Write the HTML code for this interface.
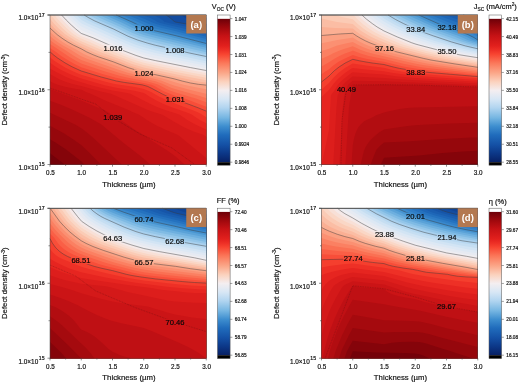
<!DOCTYPE html>
<html><head><meta charset="utf-8"><title>Contour plots</title>
<style>
html,body{margin:0;padding:0;background:#fff;}
svg{display:block;font-family:"Liberation Sans",sans-serif;}
text{stroke:#111;stroke-width:0.18px;}
text.w{stroke:none;}
</style></head><body>
<svg width="520" height="383" viewBox="0 0 520 383">
<rect width="520" height="383" fill="#fff"/>
<g><rect x="50" y="15" width="156.2" height="149.5" fill="#0d3b8c"/><path d="M50,15 198.4,15 202.3,16.5 206.2,17.5 206.2,164.5 50,164.5Z" fill="#104496"/><path d="M50,15 181.2,15 186.9,19 190.6,21 193.3,22 206.2,23.8 206.2,164.5 50,164.5Z" fill="#134ca0"/><path d="M50,15 165.9,15 169.1,17 175,22 186.7,24 196.2,26 202.3,27.9 206.2,30 206.2,164.5 50,164.5Z" fill="#1655a9"/><path d="M50,15 152.4,15 155.5,16.1 159.4,18 162.4,20 164.7,22 171.1,23.5 187.9,27 191.7,28 197.5,30 206.2,32.2 206.2,164.5 50,164.5Z" fill="#1a5eb0"/><path d="M50,15 142,15 150.3,18 154.4,20 157.5,22 160.5,23 167.2,24.8 182.8,28.3 206.2,34.5 206.2,164.5 50,164.5Z" fill="#1e67b8"/><path d="M50,15 134.2,15 144.7,19 153.4,23 159.4,25 178.9,29.7 206.2,36.8 206.2,164.5 50,164.5Z" fill="#2572bf"/><path d="M50,15 127.7,15 149,24 155.5,26.3 161.7,28 171.1,30.1 182.8,33 206.2,39 206.2,164.5 50,164.5Z" fill="#2f7dc6"/><path d="M50,15 121.8,15 138,22 144.4,25 151.6,27.7 178.9,34.2 206.2,41.2 206.2,164.5 50,164.5Z" fill="#3988cc"/><path d="M50,15 116,15 132,22 139.8,25.9 144.6,28 155.3,30.9 175,35.5 206.2,43.5 206.2,164.5 50,164.5Z" fill="#4795d2"/><path d="M50,15 110.2,15 126.2,22 138,28 143.8,30.1 151.6,32.3 171.1,36.9 206.2,45.7 206.2,164.5 50,164.5Z" fill="#5aa2d8"/><path d="M50,15 104.6,15 122.7,23 132.5,28 135.9,29.5 143.8,32.5 151.6,34.7 206.2,47.8 206.2,164.5 50,164.5Z" fill="#6dafdf"/><path d="M50,15 99.2,15 104.7,17.6 120.3,24.4 133.5,30.9 139.8,33.5 143.8,34.9 155.5,38 206.2,50 206.2,164.5 50,164.5Z" fill="#80bbe4"/><path d="M50,15 94,15 102.1,19 120.3,27 132,32.8 139.8,36 147.7,38.3 155.5,40.3 187.3,47.9 206.2,52.2 206.2,164.5 50,164.5Z" fill="#94c6e9"/><path d="M50,15 89,15 96.9,19.2 102.9,22 116.4,27.7 131,34.9 139.8,38.4 147.7,40.7 159.4,43.7 190.6,50.9 206.2,54.3 206.2,164.5 50,164.5Z" fill="#a8d0ee"/><path d="M50,15 84.1,15 89.1,18 94.8,21 113.4,29 128.1,36.3 137.2,39.9 147.7,43.2 155.5,45.3 188.8,52.9 206.2,56.5 206.2,164.5 50,164.5Z" fill="#b8d8f1"/><path d="M50,15 79.8,15 81.2,16.4 85.2,18.9 93,22.9 107.1,29 128,38.9 139.8,43.4 147.7,45.8 155.7,47.9 186.7,54.8 206.2,58.8 206.2,164.5 50,164.5Z" fill="#c5def2"/><path d="M50,15 76.2,15 81.2,19.8 87,23 91.2,25 100.6,29 124.1,39.9 136.4,44.9 143.8,47.3 155.5,50.4 206.2,61.2 206.2,164.5 50,164.5Z" fill="#d2e4f4"/><path d="M50,15 72.5,15 81,23 82.7,24 120.3,41.1 128.1,44.5 134.4,46.9 143.8,50 155.5,53 206.2,63.5 206.2,164.5 50,164.5Z" fill="#dde8f4"/><path d="M50,15 68.9,15 74.9,21 81.2,26.6 124.2,45.7 139.8,51.4 147.7,53.8 155.5,55.6 190.7,62.8 206.2,65.8 206.2,164.5 50,164.5Z" fill="#e6eaf2"/><path d="M50,15 65.2,15 73.1,23 81.2,30.1 87.8,32.9 100.1,37.9 120.3,46.9 139.8,54.1 147.7,56.4 153.8,57.9 190.6,65.2 206.2,68.2 206.2,164.5 50,164.5Z" fill="#efedf1"/><path d="M50,15 61.6,15 66.2,20 71.3,25 75.8,29 81.2,33.4 93.3,37.9 113.6,46.9 139.8,56.8 143.8,58 155.5,60.6 190.6,67.6 206.2,70.5 206.2,164.5 50,164.5Z" fill="#f5e9e8"/><path d="M50,15 57.9,15 64.3,22 70.5,28 76.3,32.9 81.2,36 91.3,39.9 107,46.9 135.5,57.9 143.8,60.4 151.6,62.2 186.7,69.3 206.2,72.9 206.2,164.5 50,164.5Z" fill="#f8e0d7"/><path d="M50,15 54.3,15 60.4,22 66.4,28 72.1,32.9 77.3,36.4 81.2,38.6 89.1,41.7 100.6,46.9 108.6,50 132,59 139.8,61.6 143.8,62.7 159.4,66.2 190.6,72.4 206.2,75.3 206.2,164.5 50,164.5Z" fill="#fad7c6"/><path d="M50,15 50.7,15 56.6,22 62.3,28 67.9,32.9 70.6,34.9 75.4,37.9 81.2,41.2 104.1,50.9 135.9,62.8 143.8,65.1 155.5,67.8 178.9,72.5 194.5,75.6 206.2,77.8 206.2,164.5 50,164.5Z" fill="#fbcbb5"/><path d="M50,19 50,18.8 53.9,23.4 58.2,28 64.9,33.9 69.5,37.1 75.9,40.9 81.2,43.7 102.5,52.9 120.3,59.3 132,63.9 137.9,65.8 143.8,67.5 155.5,70.1 182.8,75.8 206.2,80.2 206.2,163.5 206.2,164.5 50,164.5Z" fill="#fbbda4"/><path d="M50,24 50,23.4 54.1,28 60.7,33.9 64.7,36.9 69.5,40.1 74.5,42.9 80.5,45.9 87.2,48.9 93.3,51.9 100.7,54.9 117.8,60.8 130.4,65.8 139.8,68.8 151.6,71.6 185.6,78.8 194.5,80.8 199.8,81.8 206.2,82.6 206.2,163.5 206.2,164.5 50,164.5Z" fill="#fbaf93"/><path d="M50,29 50,28 57.6,34.9 61.7,38 66,40.9 73,44.9 81.4,48.9 86.7,51.9 91,53.9 95.9,55.9 113.3,61.8 128.1,67.6 135.9,70.1 142.2,71.8 174.1,78.8 186.7,82.2 194.7,83.8 206.2,85.1 206.2,163.5 206.2,164.5 50,164.5Z" fill="#fba082"/><path d="M50,32.9 50,32 53.9,35.5 58.3,38.9 62.6,41.9 67.6,44.9 75.4,48.9 81.2,52.5 83.9,53.9 88.3,55.9 93.5,57.9 105.2,61.8 123.9,68.8 133.1,71.8 139.8,73.5 164,78.8 175,82.3 182.8,84.4 194.5,87.1 206.2,89.3 206.2,163.5 206.2,164.5 50,164.5Z" fill="#fb9072"/><path d="M50,36.9 50,35.9 53.9,39.2 59.1,42.9 63.9,45.9 69.5,48.9 80.7,55.9 87.7,58.9 118.6,69.8 127.9,72.8 135.9,74.8 155.5,79 161.7,80.8 171.1,84.4 175,85.7 190.6,89.9 206.2,93.7 206.2,163.5 206.2,164.5 50,164.5Z" fill="#fb8062"/><path d="M50,39.9 53.9,42.9 57.8,45.6 63.5,48.9 74.2,55.9 81.2,59.9 103.7,67.8 118.9,72.8 130.1,75.8 147.7,79.4 155.5,81.3 162.4,83.8 171.1,87.7 175,89 198.9,95.7 206.2,98 206.2,163.5 206.2,164.5 50,164.5Z" fill="#fa7053"/><path d="M50,43.9 53.9,46.6 62.1,51.9 69.5,57.1 75.9,60.8 81.2,63.6 102.8,70.8 119.5,75.8 128.1,77.8 147.7,81.5 155.5,83.7 158.5,84.8 166,88.8 171.1,91 178.9,93.5 196.6,98.7 206.2,102.3 206.2,163.5 206.2,164.5 50,164.5Z" fill="#fa5f46"/><path d="M50,47.9 56.1,51.9 61.2,55.9 67.2,59.8 74.1,63.8 81.2,67.3 101.6,73.8 115.9,77.8 128.1,80.3 143.7,82.9 151.6,84.7 154,85.8 163.3,90.9 171.1,94.3 175,95.7 185.3,98.7 206.3,106.7 206.2,163.5 206.2,164.5 50,164.5Z" fill="#f84e39"/><path d="M50,51.9 57.4,57.9 64.9,62.8 72.1,66.8 81.3,71 100.8,76.9 116.4,81 124.2,82.4 142,84.8 145.8,85.8 147.7,86.4 151.6,88.3 163.3,94.5 167.2,96.3 174.1,98.7 198.4,107.9 206.2,111.1 206.2,163.5 206.2,164.5 50,164.5Z" fill="#f53f2e"/><path d="M50,57.9 50,57.3 53.9,60.4 57.4,62.8 65.6,67.7 73.4,71.5 81.2,74.7 104.7,81.5 112.5,83.5 116.4,84.2 133.7,86.8 139.8,88 143.8,89 147.7,90.5 151.6,92.3 159.4,96.7 171.1,102.1 196.7,111.7 200.7,113.7 206.2,117.2 206.2,163.5 206.2,164.5 50,164.5Z" fill="#ee3026"/><path d="M50,63.8 50,62.8 53.9,65.6 57.8,68 61.7,70.2 67,72.8 73.9,75.8 81.2,78.5 96.9,83.1 104.7,85.2 116.4,87.7 134.6,90.7 139.8,92 143.8,93.1 145.2,93.7 149.8,96.7 156.9,100.7 163,103.7 170.3,106.7 184.9,111.7 190.6,113.9 192.1,114.7 199.5,119.7 206.2,123.3 206.2,163.5 206.2,164.5 50,164.5Z" fill="#e62520"/><path d="M50,68.8 50,68.4 55.7,71.8 65.6,76.8 70.3,78.8 76.2,80.8 92.9,85.8 100.8,87.8 112.5,90.4 125.8,92.7 130.4,93.7 150,103.7 156.5,106.7 164.3,109.7 177.1,113.7 179.8,114.7 186.9,119.7 193.5,123.6 199.4,126.6 206.2,129.5 206.2,163.5 206.2,164.5 50,164.5Z" fill="#dd1e1c"/><path d="M50,74.8 50,73.9 58.3,78.8 62.7,80.8 68.4,82.8 73.4,84.2 81.2,85.9 100.8,91.4 111.1,93.7 147.3,109.7 152.8,111.7 162.5,114.7 173.7,121.6 184.5,127.6 193.5,131.6 202.5,134.6 204.6,135.6 206.2,137.1 206.2,163.5 206.2,164.5 50,164.5Z" fill="#d41919"/><path d="M50,81.8 50,81.2 53.9,83.2 57.8,84.7 65,86.8 73.4,88.5 81.7,89.8 85.3,91.7 90.7,93.7 105.7,100.7 127.8,109.7 134.2,112.7 139.2,114.7 147.7,120.5 155.5,125 164.9,129.6 176.9,134.6 178.7,135.6 206.2,157.9 206.2,163.5 206.2,164.5 50,164.5Z" fill="#cb1416"/><path d="M50,89.8 50,89.1 51.9,89.8 81.2,100.5 95.8,106.7 103.6,109.7 105.6,110.7 124.2,122.3 135.9,130.4 144.6,135.6 151.6,140.4 167.2,150.5 175,156 184.6,164.5 50,164.5Z" fill="#bf1014"/><path d="M50,100.7 60.9,104.7 72.6,109.7 89.1,117.6 101.4,124.6 124.2,143.5 141.2,156.5 150.2,164.5 50,164.5Z" fill="#b20d11"/><path d="M50,112.7 75,124.6 80.1,127.6 83.1,129.6 88.2,133.6 95.1,139.6 121.7,164.5 50,164.5Z" fill="#a50a0e"/><path d="M50,126.6 50,126 51.3,126.6 57.8,130 64.2,133.6 73.4,139.4 81.2,145 90.2,153.5 100.7,164.5 50,164.5Z" fill="#96070c"/><path d="M50,139.6 50,139.3 55.5,142.6 66.1,149.6 81.2,161.2 84.3,164.5 50,164.5Z" fill="#85040a"/><path d="M50,153.5 50,153.2 64.6,164.5 50,164.5Z" fill="#740109"/><mask id="ma" maskUnits="userSpaceOnUse" x="0" y="0" width="520" height="383"><rect width="520" height="383" fill="#fff"/><rect x="134" y="24.4" width="20" height="7" fill="#000"/><rect x="165.1" y="46.5" width="20" height="7" fill="#000"/><rect x="103" y="44.6" width="20" height="7" fill="#000"/><rect x="134" y="69.4" width="20" height="7" fill="#000"/><rect x="165.3" y="95.9" width="20" height="7" fill="#000"/><rect x="102.8" y="114.2" width="20" height="7" fill="#000"/></mask><g mask="url(#ma)"><path d="M50,88 81,99 95.6,104 112.8,117.7 140,134 172,148 194,164" fill="none" stroke="#4a1010" stroke-opacity="0.55" stroke-width="0.6" stroke-dasharray="0.8 0.9"/><path d="M165.9,15 169.1,17 175,22 186.7,24 196.2,26 202.3,27.9 206.2,30" fill="none" stroke="#3a3a3a" stroke-opacity="0.75" stroke-width="0.6"/><path d="M116,15 132,22 139.8,25.9 144.6,28 155.3,30.9 175,35.5 206.2,43.5" fill="none" stroke="#3a3a3a" stroke-opacity="0.75" stroke-width="0.6"/><path d="M84.1,15 89.1,18 94.8,21 113.4,29 128.1,36.3 137.2,39.9 147.7,43.2 155.5,45.3 188.8,52.9 206.2,56.5" fill="none" stroke="#3a3a3a" stroke-opacity="0.75" stroke-width="0.6"/><path d="M61.6,15 66.2,20 71.3,25 75.8,29 81.2,33.4 93.3,37.9 113.6,46.9 135.9,55.4 143.8,58 155.5,60.6 190.6,67.6 206.2,70.5" fill="none" stroke="#3a3a3a" stroke-opacity="0.75" stroke-width="0.6"/><path d="M50,28 55.3,32.9 57.8,35.1 63,38.9 67.7,41.9 73.4,45.1 81.4,48.9 86.7,51.9 93,54.7 98.6,56.9 113.3,61.8 128.7,67.8 139.8,71.2 174.1,78.8 182.8,81.2 190.6,83 198.4,84.3 206.2,85.1" fill="none" stroke="#3a3a3a" stroke-opacity="0.75" stroke-width="0.6"/><path d="M50,51.8 53.5,54.9 57.4,57.9 64.9,62.8 72.1,66.8 81.3,71 100.8,76.9 116.4,81 124.2,82.4 142,84.8 145.8,85.8 147.7,86.4 151.6,88.3 163.3,94.5 167.2,96.3 174.1,98.7 198.4,107.9 206.2,111.1" fill="none" stroke="#3a3a3a" stroke-opacity="0.75" stroke-width="0.6"/></g></g>
<g><rect x="321.5" y="15" width="156.2" height="149.5" fill="#104496"/><path d="M321.5,15 475,15 477.8,15.7 477.8,164.5 321.5,164.5Z" fill="#134ca0"/><path d="M321.5,15 463.2,15 477.8,19.2 477.8,164.5 321.5,164.5Z" fill="#1655a9"/><path d="M321.5,15 453.5,15 466,19.1 477.8,22.6 477.8,164.5 321.5,164.5Z" fill="#1a5eb0"/><path d="M321.5,15 444.9,15 466,22.3 477.8,26.1 477.8,164.5 321.5,164.5Z" fill="#1e67b8"/><path d="M321.5,15 437.4,15 458.2,22.8 477.8,29.6 477.8,164.5 321.5,164.5Z" fill="#2572bf"/><path d="M321.5,15 430.8,15 446.5,21.4 461.1,27 472.9,30.9 477.8,33.1 477.8,164.5 321.5,164.5Z" fill="#2f7dc6"/><path d="M321.5,15 424.6,15 442.6,22.8 453.1,27 462.4,30 469.9,32.7 473.8,34.4 477.8,36.5 477.8,164.5 321.5,164.5Z" fill="#3988cc"/><path d="M321.5,15 418.7,15 445.7,27 460.9,31.9 468.6,34.9 473.8,37.5 477.8,40 477.8,164.5 321.5,164.5Z" fill="#4795d2"/><path d="M321.5,15 413,15 439.1,27 459.7,33.9 467,36.9 472.7,39.9 477.8,41.5 477.8,164.5 321.5,164.5Z" fill="#5aa2d8"/><path d="M321.5,15 407.5,15 434.8,27.6 458.2,35.8 463.4,37.9 467.6,39.9 477.8,42.9 477.8,164.5 321.5,164.5Z" fill="#6dafdf"/><path d="M321.5,15 402.4,15 411.3,19.4 430.9,28.3 454.3,36.6 462.3,39.9 468.7,41.9 477.8,44.4 477.8,164.5 321.5,164.5Z" fill="#80bbe4"/><path d="M321.5,15 397.4,15 403.5,18.3 409.1,21 423.1,27.4 429.2,30 459.8,40.9 469.9,43.9 477.8,45.9 477.8,164.5 321.5,164.5Z" fill="#94c6e9"/><path d="M321.5,15 392.7,15 399.6,18.9 407.4,22.8 420.9,29 427,31.4 454.1,40.9 467.8,44.9 477.8,47.3 477.8,164.5 321.5,164.5Z" fill="#a8d0ee"/><path d="M321.5,15 388,15 395.7,19.6 403.5,23.6 415.1,29 425,32.9 433.3,35.9 451.3,41.9 465.3,45.9 477.8,48.8 477.8,164.5 321.5,164.5Z" fill="#b8d8f1"/><path d="M321.5,15 383.6,15 391.3,20 399.6,24.4 411.3,29.9 423.1,34.6 435.6,38.9 451.7,43.9 466,47.8 477.8,50.3 477.8,164.5 321.5,164.5Z" fill="#c5def2"/><path d="M321.5,15 379.2,15 386.4,20 395.7,25.2 407.4,30.8 420.2,35.9 434.9,40.9 452,45.9 466,49.4 477.8,51.8 477.8,164.5 321.5,164.5Z" fill="#d2e4f4"/><path d="M321.5,15 374.9,15 378.8,18 384,21.6 391.8,26 401.8,30.9 411.3,34.9 419,37.9 430.9,41.9 452.4,47.9 464.9,50.9 477.8,53.2 477.8,164.5 321.5,164.5Z" fill="#dde8f4"/><path d="M321.5,15 370.5,15 375.6,19 379.8,22 384,24.7 387.9,26.9 398.1,31.9 407.4,35.9 415.2,39 423.1,41.7 430.1,43.9 450.4,49.3 461.5,51.9 477.8,54.7 477.8,164.5 321.5,164.5Z" fill="#e6eaf2"/><path d="M321.5,15 366.2,15 371,19 376.2,22.9 380.9,26 386,29 389.9,30.9 398.8,34.9 415.2,41.5 422.4,43.9 450.4,51.2 462.1,53.6 477.8,56.2 477.8,164.5 321.5,164.5Z" fill="#efedf1"/><path d="M321.5,15 361.9,15 366.3,19 372.3,23.6 377.2,27 383.9,30.9 397.2,36.9 411.3,42.6 415,43.9 418.5,44.9 445.2,51.9 460.1,54.9 477.8,57.7 477.8,164.5 321.5,164.5Z" fill="#f5e9e8"/><path d="M321.5,15 357.5,15 362.9,20 367.8,24 372.3,27.2 378.2,30.9 384,33.8 391.8,37.3 407.9,43.9 419.2,47.1 442.6,53.1 458.2,56.2 477.8,59.3 477.8,164.5 321.5,164.5Z" fill="#f8e0d7"/><path d="M321.5,15 353.2,15 358.2,20 362.8,24 368.1,28 372.6,30.9 376.2,33 382.3,35.9 401,43.9 414.5,47.9 438.7,54 454.3,57.1 477.8,60.9 477.8,164.5 321.5,164.5Z" fill="#fad7c6"/><path d="M321.5,15 334.9,15 341.9,17 352.8,19.2 357.8,24 362.7,28 366.9,30.9 372,33.9 380.1,37.9 394.3,43.9 403.3,46.9 411.3,49.1 426,52.9 442.6,56.6 454.8,58.9 477.8,62.5 477.8,164.5 321.5,164.5Z" fill="#fbcbb5"/><path d="M321.5,19 321.5,18.4 332.5,21 337.1,21.9 344.5,23 352.8,23.9 356.7,27.4 361.2,30.9 364.5,33.1 369.5,35.9 376.2,39.2 387.9,44 392.9,45.9 399.6,48 418,52.9 438.7,57.7 450.7,59.9 477.8,64.1 477.8,163.5 477.8,164.5 321.5,164.5Z" fill="#fbbda4"/><path d="M321.5,27 335.2,28 352.8,28.6 356.7,31.8 359.8,33.9 364.5,36.7 368.7,38.9 377.8,42.9 388.5,46.9 394.6,48.9 409.5,52.9 434.8,58.8 446.5,60.9 477.8,65.7 477.8,163.5 477.8,164.5 321.5,164.5Z" fill="#fbaf93"/><path d="M340.7,33.9 352.8,33.3 356.7,35.9 361.8,38.9 367.8,41.9 372.4,43.9 380.1,46.7 389.8,49.9 404.6,53.9 425.6,58.9 434.8,60.7 458.2,64.5 477.8,67.3 477.8,164.5 458.2,164.5 321.5,164.5 321.5,35.5Z" fill="#fba082"/><path d="M350.3,37.9 352.8,37.6 358.3,40.9 364.4,43.9 369.1,45.9 376.2,48.5 391.8,53 415.7,58.9 427,61.3 438.7,63.3 458.2,66.2 477.8,68.8 477.8,164.5 446.5,164.5 321.5,164.5 321.5,43.3 329,41.8 337.3,39.9Z" fill="#fb9072"/><path d="M347.9,42.9 352.8,42 358.4,44.9 362.8,46.9 368,48.9 374.2,50.9 405.3,58.9 418.3,61.8 427,63.5 438.7,65.3 456.9,67.8 477.8,70.4 477.8,164.5 450.4,164.5 321.5,164.5 321.5,51 329,48.7 333.2,47 337.1,45.6 343.5,43.9Z" fill="#fb8062"/><path d="M350.4,46.9 352.8,46.3 361,49.9 366.8,51.9 372.3,53.5 406.9,61.8 416.2,63.8 423.1,65.1 435,66.8 458.8,69.8 477.8,72 477.8,164.5 446.5,164.5 321.5,164.5 321.5,58.7 329,55.5 333.2,53.2 338.3,50.9 343.7,48.9Z" fill="#fa7053"/><path d="M352,50.9 352.8,50.6 360.6,53.5 368.9,55.9 376.2,57.5 384,58.9 403.5,63.7 415.2,66.1 423.1,67.4 434.4,68.8 477.8,73.5 477.8,164.5 446.5,164.5 321.5,164.5 321.5,66.5 329,62.3 334,58.9 339.4,55.9 344.9,53.4Z" fill="#fa5f46"/><path d="M350.5,55.9 352.8,55 359,56.9 367.3,58.9 376.2,60.5 384,61.7 403.5,66.4 417,68.8 433.5,70.8 477.8,75 477.8,164.5 446.5,164.5 321.5,164.5 321.5,74.2 324.9,71.8 329,69.2 333.2,65.5 338.5,61.8 343.9,58.9Z" fill="#f84e39"/><path d="M351.5,59.9 352.8,59.3 359.5,60.8 364.9,61.8 372.3,63 384,64.5 391.8,66.6 399.6,68.4 407.4,69.8 415.2,71 430.9,72.6 477.8,76.6 477.8,164.5 446.5,164.5 321.5,164.5 321.5,82 329,76 333.2,71.7 337.9,67.8 343.9,63.8Z" fill="#f53f2e"/><path d="M352.3,63.8 352.8,63.6 367.6,65.8 384,67.8 391.8,69.7 397.5,70.8 407.4,72.4 415.2,73.3 431.4,74.8 477.8,78.3 477.8,164.5 446.5,164.5 321.5,164.5 321.5,89.5 329,83 333.4,77.8 338.6,72.8 344.9,68.1Z" fill="#ee3026"/><path d="M351.1,68.8 352.8,67.9 368.4,69.7 384,71.2 391.8,72.7 398.7,73.8 416.7,75.8 434.8,77.2 477.8,80.1 477.8,164.5 446.5,164.5 321.5,164.5 321.5,97 329,90.1 333.6,83.8 336.2,80.8 339.2,77.8 344.9,73Z" fill="#e62520"/><path d="M351.7,72.8 352.8,72.2 368.4,73.5 384,74.6 395.7,76.2 412.5,77.8 434.8,79.3 477.8,81.8 477.8,164.5 446.5,164.5 321.5,164.5 325.3,147.6 329,129.8 330.6,101.7 330.9,95.7 331.2,94.7 334.3,90.7 337.9,84.8 338.8,83.8 341.7,80.8 344.9,77.9Z" fill="#dd1e1c"/><path d="M352.2,76.8 352.8,76.4 384,77.9 395.7,79 411.3,80.1 477.8,83.5 477.8,164.5 462.1,164.5 333.3,164.5 336.4,107.7 337.6,95.7 337.8,94.7 340.1,90.7 342.9,84.8 347.2,80.8Z" fill="#d41919"/><path d="M352.7,80.8 384,81.3 477.8,85.3 477.8,164.5 466,164.5 339.4,164.5 342.7,107.7 344.2,95.7 348,84.8Z" fill="#cb1416"/><path d="M382.7,84.8 428.2,85.8 438.7,86.3 477.8,87.5 477.8,164.5 442.6,164.5 345.4,164.5 349,106.7 350.8,95.7 352.8,85.5 368.4,85.2Z" fill="#bf1014"/><path d="M453,106.7 477.8,106.2 477.8,164.5 376.2,164.5 351.5,164.5 352.8,145.3 353.6,140.6 354.8,135.6 356.2,131.6 358.2,127.6 360.6,124.5 363.8,121.6 367.1,119.7 371.7,117.7 376.2,115.3 380.3,113.7 384,112.5 387.9,111.5 399.6,109.1 407.4,108.1 415.2,107.5Z" fill="#b20d11"/><path d="M448.9,123.6 477.8,122.7 477.8,164.5 391.8,164.5 360.8,164.5 362.3,157.5 364.1,150.5 364.5,149.4 365.9,146.6 368.4,142.8 371.1,139.6 376.2,134.8 379,132.6 384,129.5 407.4,126.1 415.2,125.3 423.1,124.8Z" fill="#a50a0e"/><path d="M471.6,137.6 477.8,137.4 477.8,164.5 376.2,164.5 370.8,164.5 372.3,160.1 374.4,154.5 376.6,149.6 380.1,145.8 384,142.5 406.7,141.6 442.6,138.9Z" fill="#96070c"/><path d="M463,151.5 477.8,150.7 477.8,164.5 395.7,164.5 380.8,164.5 384,157.8 419.2,155.4 442.6,153Z" fill="#85040a"/><path d="M473.6,163.5 477.8,163.2 477.8,164.5 466,164.5 459.3,164.5Z" fill="#740109"/><mask id="mb" maskUnits="userSpaceOnUse" x="0" y="0" width="520" height="383"><rect width="520" height="383" fill="#fff"/><rect x="436.9" y="24.2" width="20" height="7" fill="#000"/><rect x="405.7" y="25.5" width="20" height="7" fill="#000"/><rect x="436.9" y="47.8" width="20" height="7" fill="#000"/><rect x="374.4" y="45.2" width="20" height="7" fill="#000"/><rect x="405.7" y="68.6" width="20" height="7" fill="#000"/><rect x="336.4" y="85.5" width="20" height="7" fill="#000"/></mask><g mask="url(#mb)"><path d="M341,164.5 342,120 346.4,89 352.8,85 384,84.7 415,85 446.5,86 477.7,87" fill="none" stroke="#4a1010" stroke-opacity="0.55" stroke-width="0.6" stroke-dasharray="0.8 0.9"/><path d="M463.2,15 477.8,19.2" fill="none" stroke="#3a3a3a" stroke-opacity="0.75" stroke-width="0.6"/><path d="M418.7,15 445.7,27 460.9,31.9 468.6,34.9 473.8,37.5 477.8,40" fill="none" stroke="#3a3a3a" stroke-opacity="0.75" stroke-width="0.6"/><path d="M388,15 395.7,19.6 403.5,23.6 415.1,29 425,32.9 433.3,35.9 451.3,41.9 465.3,45.9 477.8,48.8" fill="none" stroke="#3a3a3a" stroke-opacity="0.75" stroke-width="0.6"/><path d="M361.9,15 366.3,19 372.3,23.6 377.2,27 383.9,30.9 397.2,36.9 411.3,42.6 415,43.9 418.5,44.9 445.2,51.9 460.1,54.9 477.8,57.7" fill="none" stroke="#3a3a3a" stroke-opacity="0.75" stroke-width="0.6"/><path d="M321.5,35.5 340.7,33.9 352.8,33.3 356.6,35.9 360.6,38.3 365.6,40.9 370,42.9 380.1,46.7 389.8,49.9 395.7,51.6 423.1,58.3 430.9,60 454.1,63.8 477.8,67.3" fill="none" stroke="#3a3a3a" stroke-opacity="0.75" stroke-width="0.6"/><path d="M321.5,82 329,76 334.2,70.8 339.3,66.8 345.6,62.8 352.8,59.3 359.5,60.8 364.9,61.8 372.3,63 384,64.5 391.8,66.6 399.6,68.4 413.9,70.8 430.9,72.6 477.8,76.6" fill="none" stroke="#3a3a3a" stroke-opacity="0.75" stroke-width="0.6"/></g></g>
<g><rect x="50" y="208.3" width="156.2" height="149.9" fill="#0b3381"/><path d="M50,208.3 198.7,208.3 206.2,210.3 206.2,358.2 50,358.2Z" fill="#0d3b8c"/><path d="M50,208.3 185.5,208.3 198,212.3 206.2,214.2 206.2,358.2 50,358.2Z" fill="#104496"/><path d="M50,208.3 173.5,208.3 184.6,212.3 188.1,213.3 198.4,215.6 202.3,216.7 206.2,218.1 206.2,358.2 50,358.2Z" fill="#134ca0"/><path d="M50,208.3 162.4,208.3 173.2,212.3 176.5,213.3 190.1,216.3 197.3,218.3 202.3,220.1 206.2,221.8 206.2,358.2 50,358.2Z" fill="#1655a9"/><path d="M50,208.3 152.2,208.3 158.4,210.3 166.5,213.3 188,218.3 194.5,220.2 200.3,222.3 206.2,223.8 206.2,358.2 50,358.2Z" fill="#1a5eb0"/><path d="M50,208.3 143,208.3 149.5,210.3 159.4,213.7 182.6,219.3 192.9,222.3 206.2,225.7 206.2,358.2 50,358.2Z" fill="#1e67b8"/><path d="M50,208.3 134.3,208.3 143.8,211.1 153.3,214.3 159.4,216 175,219.7 192.9,224.3 206.2,227.5 206.2,358.2 50,358.2Z" fill="#2572bf"/><path d="M50,208.3 126.2,208.3 148.4,215.3 155.5,217.3 175,221.9 196.9,227.3 206.2,229.3 206.2,358.2 50,358.2Z" fill="#2f7dc6"/><path d="M50,208.3 119.2,208.3 143.8,216.4 151.6,218.8 171.1,223.2 194.5,228.8 206.2,231.2 206.2,358.2 50,358.2Z" fill="#3988cc"/><path d="M50,208.3 113.2,208.3 124.2,212.4 143.8,219 148.2,220.3 155.5,222.1 174.9,226.3 190.6,230 206.2,233 206.2,358.2 50,358.2Z" fill="#4795d2"/><path d="M50,208.3 108.2,208.3 112.5,210.3 120.3,213.4 137,219.3 147.7,222.6 155.5,224.5 167.2,226.9 186.4,231.3 206.2,235.2 206.2,358.2 50,358.2Z" fill="#5aa2d8"/><path d="M50,208.3 103.9,208.3 108.6,210.9 116.4,214.2 132,220 143.8,224 151.6,226 178.9,232 206.2,237.4 206.2,358.2 50,358.2Z" fill="#6dafdf"/><path d="M50,208.3 100.1,208.3 104.7,211.2 112.5,214.9 135.9,224 143.8,226.5 151.6,228.5 159.4,230.2 188.4,236.3 206.2,239.7 206.2,358.2 50,358.2Z" fill="#80bbe4"/><path d="M50,208.3 96.6,208.3 100.8,211.3 104.7,213.6 108.6,215.5 132,225.1 139.8,227.8 147.7,230 159.4,232.7 186.7,238.3 206.2,241.9 206.2,358.2 50,358.2Z" fill="#94c6e9"/><path d="M50,208.3 93.3,208.3 96.9,211.2 99.9,213.3 103.4,215.3 107.3,217.3 128.1,226.2 139.8,230.4 147.7,232.5 159.4,235.1 184.8,240.3 206.3,244.1 206.2,358.2 50,358.2Z" fill="#a8d0ee"/><path d="M50,208.3 90.1,208.3 93,211 96.9,213.9 100.8,216.4 104.4,218.3 124.2,227.2 135.9,231.6 143.8,234 155.5,236.7 182.8,242.2 206.2,246.3 206.2,358.2 50,358.2Z" fill="#b8d8f1"/><path d="M50,208.3 87.2,208.3 90,211.3 93,213.9 96.9,216.7 100.8,218.9 118.2,227.3 125.3,230.3 133.3,233.3 143.8,236.4 155.5,239.1 178.9,243.7 206.2,248.6 206.2,358.2 50,358.2Z" fill="#c5def2"/><path d="M50,208.3 84.3,208.3 86.7,211.3 89.8,214.3 93,216.8 96.9,219.4 106.1,224.3 112.5,227.4 123.7,232.3 131.8,235.3 143.8,238.8 155.5,241.6 178.9,246 206.2,251 206.2,358.2 50,358.2Z" fill="#d2e4f4"/><path d="M50,208.3 81.4,208.3 84.4,212.3 87.3,215.3 89.5,217.3 93.8,220.3 100.8,224.3 108.6,228.4 119.6,233.3 128.1,236.6 139.8,240.2 151.6,243.1 163.3,245.4 206.2,253.3 206.2,358.2 50,358.2Z" fill="#dde8f4"/><path d="M50,208.3 78,208.3 84.6,216.3 87.9,219.3 90.7,221.3 99.1,226.3 106.7,230.3 115.6,234.3 124.2,237.7 132,240.3 139.8,242.6 151.6,245.5 160.5,247.3 206.2,255.6 206.2,358.2 50,358.2Z" fill="#e6eaf2"/><path d="M50,208.3 74.5,208.3 81.2,216.7 83.7,219.3 86.1,221.3 93,225.7 103,231.3 112.5,235.7 120.3,238.8 132,242.7 143.8,246.1 151.6,247.9 198.4,256.4 206.2,258 206.2,358.2 50,358.2Z" fill="#efedf1"/><path d="M50,208.3 71.1,208.3 81.2,220.9 89.1,226.4 97.4,231.3 107.4,236.3 112.5,238.5 124.2,242.6 139.8,247.5 147.7,249.4 173.8,254.3 194.5,257.8 206.2,260.3 206.2,358.2 50,358.2Z" fill="#f5e9e8"/><path d="M50,208.3 67.6,208.3 73.4,215.9 77.9,221.3 81.2,224.3 85.2,227 93,231.8 103.4,237.3 108.6,239.5 119.2,243.3 135.9,248.7 147.7,251.6 161.4,254.3 185.9,258.3 206.2,262 206.2,358.2 50,358.2Z" fill="#f8e0d7"/><path d="M50,208.3 64.1,208.3 69.5,215.5 74.2,221.3 81.2,227.6 89.1,232.6 97.5,237.3 104.1,240.3 112.1,243.3 132,249.9 139.8,252.1 147.7,253.9 155.5,255.4 178.9,259 206.2,263.8 206.2,358.2 50,358.2Z" fill="#fad7c6"/><path d="M50,208.3 60.6,208.3 65.8,215.3 70.6,221.3 75.8,226.3 81.2,230.8 88.3,235.3 93.6,238.3 100.8,241.5 108,244.3 128.1,251 135.9,253.3 143.8,255.2 155.5,257.4 175,260.4 206.2,265.5 206.2,358.2 50,358.2Z" fill="#fbcbb5"/><path d="M50,208.3 57.2,208.3 66.9,221.3 73,227.3 78.9,232.3 83.1,235.3 89.9,239.3 96.9,242.6 103.7,245.3 115.5,249.3 132,254.5 138.4,256.3 143.8,257.5 153.7,259.3 175,262.3 206.2,267.2 206.2,358.2 50,358.2Z" fill="#fbbda4"/><path d="M50,208.3 53.7,208.3 60.2,217.3 64.1,222.3 71.2,229.3 78.4,235.3 81.2,237.4 88,241.3 93,243.6 99.4,246.3 107.9,249.3 128.1,255.8 139.8,258.9 151.6,261.1 182.8,265.4 206.2,269 206.2,358.2 50,358.2Z" fill="#fbaf93"/><path d="M50,208.3 50.2,208.3 59.6,221.3 65,227.3 70.3,232.3 75.2,236.3 81.2,240.7 87.9,244.3 94.9,247.3 103.2,250.3 124.2,257.2 132,259.4 139.8,261.2 151.6,263.4 175.4,266.3 190.6,268.7 206.2,270.7 206.2,358.2 50,358.2Z" fill="#fba082"/><path d="M50,213.3 50,213.1 55.9,221.3 59.3,225.3 64,230.3 69.5,235.4 75.7,240.3 81.2,244.1 85.6,246.3 93,249.4 120.3,258.6 128.1,260.9 139.8,263.8 143.8,264.5 151.6,265.8 171.1,268.1 206.2,272.8 206.2,357.2 206.2,358.2 50,358.2Z" fill="#fb9072"/><path d="M50,218.3 55.4,225.3 59.9,230.3 65,235.3 71.9,241.3 75.9,244.3 80.9,247.3 85.2,249.2 90.3,251.3 104.7,256.4 116.4,260.2 132,264.5 139.8,266.4 151.6,268.2 206.2,274.8 206.2,357.2 206.2,358.2 50,358.2Z" fill="#fb8062"/><path d="M50,223.3 54.8,229.3 59.5,234.3 67.8,242.3 73,246.3 77.3,248.9 81.2,250.9 92.7,255.3 100.8,258.1 112.5,261.9 128.1,266.2 135.9,268.1 143.8,269.6 155.5,271.2 190.5,275.3 206.2,276.9 206.2,357.2 206.2,358.2 50,358.2Z" fill="#fa7053"/><path d="M50,229.3 50,228.3 54.2,233.3 59.1,238.3 61.7,241.4 64.5,244.3 68.2,247.3 71.1,249.3 76.6,252.3 81.2,254.2 92.1,258.3 103.8,262.3 110.7,264.3 130,269.3 135.9,270.7 143.8,272.2 155.5,273.7 182.8,276.7 206.2,278.9 206.2,357.2 206.2,358.2 50,358.2Z" fill="#fa5f46"/><path d="M50,234.3 50,233.4 54.5,238.3 57.8,243 60.7,246.3 64.2,249.3 68.7,252.3 72.5,254.3 77.3,256.3 99.5,264.3 106.8,266.3 123.5,270.3 132,272.6 140.5,274.3 151.6,275.7 174.7,278.3 206.2,280.9 206.2,357.2 206.2,358.2 50,358.2Z" fill="#f84e39"/><path d="M50,239.3 50,238.6 53.2,244.3 56.3,248.3 59.4,251.3 63.6,254.3 67.3,256.3 69.5,257.3 75.1,259.3 81.2,261.1 85.2,263.1 88,264.3 94,266.3 101.8,268.3 112.5,270.6 126.3,274.3 132,275.5 139.8,276.8 155.5,278.9 182.8,281.6 194.5,282.5 206.2,283.1 206.2,357.2 206.2,358.2 50,358.2Z" fill="#f53f2e"/><path d="M50,249.3 50,248.8 52.7,252.3 55.9,255.3 58.9,257.3 63,259.3 68.1,261.3 74.9,264.3 82.9,267.3 89.1,269 106.6,273.3 120,276.3 130,278.3 143.8,280.5 175,284.1 190.6,285.4 206.2,286.3 206.2,357.2 206.2,358.2 50,358.2Z" fill="#ee3026"/><path d="M50,259.3 50,258.7 56.1,262.3 64.4,266.3 69.5,268.4 77.3,271.1 81.2,272.3 104.4,277.3 126.6,281.3 135.9,282.7 167.2,286.7 183,288.2 206.2,289.7 206.2,357.2 206.2,358.2 50,358.2Z" fill="#e62520"/><path d="M50,267.3 50,267 54.7,269.3 59.4,271.3 69.5,274.8 81.2,278 88.7,279.3 129.6,285.2 153.2,288.2 157.8,289.2 163.3,290 176.3,291.2 182.8,292.1 186.7,292.5 194.5,292.9 206.2,293.1 206.2,357.2 206.2,358.2 50,358.2Z" fill="#dd1e1c"/><path d="M50,276.3 50,275.3 57.8,278.1 65.5,280.3 73.4,282.1 81.2,283.7 105.8,286.2 110.5,287.2 128.6,292.2 147.7,296.2 167.2,300.5 175,301.6 182.8,302.1 194.5,302.8 206.2,303 206.2,357.2 206.2,358.2 50,358.2Z" fill="#d41919"/><path d="M50,284.2 50,284.1 62.7,287.2 72.6,290.2 81.2,293.3 100.8,298.7 112.5,301.5 122.2,303.2 143.8,305.9 147.7,306.6 150.2,307.2 155.5,309 160.4,310.2 167.2,312.5 175,314.4 190.6,317.2 198.4,318.3 206.2,319.1 206.2,357.2 206.2,358.2 50,358.2Z" fill="#cb1416"/><path d="M50,295.2 50,294.5 52.4,295.2 61.2,298.2 68.9,301.2 77.8,305.2 89.1,311.2 96.9,315 104.7,318.3 108.6,319.7 112.5,321 120.3,323 135.9,326.2 143.8,328.1 151.6,331 177.9,342.2 188.6,347.2 194.1,350.2 198.4,352.8 202.3,355.5 205.9,358.2 50,358.2Z" fill="#bf1014"/><path d="M50,305.2 50,304.9 55.7,307.2 61.1,310.2 65.6,313.2 69.5,316.3 73.4,320.1 76.2,323.2 80,328.2 81.2,329.4 87.6,332.2 91.1,334.2 94.2,336.2 99.2,340.2 108.6,348.9 112.5,351.7 116.4,353.6 120.3,355.2 124.2,356.4 131,358.2 50,358.2Z" fill="#b20d11"/><path d="M50,317.2 50,316.3 53,318.2 57.8,321.7 62,325.2 81.2,343.6 83.2,345.2 86.3,348.2 90.7,353.2 94.3,358.2 50,358.2Z" fill="#a50a0e"/><path d="M50,328.2 50,328 50.2,328.2 68.2,345.2 81,358.2 50,358.2Z" fill="#96070c"/><path d="M50,342.2 50,341.9 60.7,352.2 66.1,358.2 50,358.2Z" fill="#85040a"/><path d="M50,357.2 50,356.7 51.2,358.2 50,358.2Z" fill="#740109"/><mask id="mc" maskUnits="userSpaceOnUse" x="0" y="0" width="520" height="383"><rect width="520" height="383" fill="#fff"/><rect x="133.9" y="215.8" width="20" height="7" fill="#000"/><rect x="164.8" y="237.9" width="20" height="7" fill="#000"/><rect x="102.8" y="234.9" width="20" height="7" fill="#000"/><rect x="133.9" y="259.2" width="20" height="7" fill="#000"/><rect x="70.9" y="257" width="20" height="7" fill="#000"/><rect x="165" y="318.7" width="20" height="7" fill="#000"/></mask><g mask="url(#mc)"><path d="M50,265 75.5,276 95.8,291 135,307.5 175,322 206,331.5" fill="none" stroke="#4a1010" stroke-opacity="0.55" stroke-width="0.6" stroke-dasharray="0.8 0.9"/><path d="M162.4,208.3 173.2,212.3 176.5,213.3 190.1,216.3 197.3,218.3 202.3,220.1 206.2,221.8" fill="none" stroke="#3a3a3a" stroke-opacity="0.75" stroke-width="0.6"/><path d="M113.2,208.3 124.2,212.4 143.8,219 148.2,220.3 155.5,222.1 174.9,226.3 190.6,230 206.2,233" fill="none" stroke="#3a3a3a" stroke-opacity="0.75" stroke-width="0.6"/><path d="M90.1,208.3 93,211 96.9,213.9 100.8,216.4 104.4,218.3 124.2,227.2 135.9,231.6 143.8,234 155.5,236.7 182.8,242.2 206.2,246.3" fill="none" stroke="#3a3a3a" stroke-opacity="0.75" stroke-width="0.6"/><path d="M71.1,208.3 77.4,216.3 81.6,221.3 89.1,226.4 96.9,231 104.7,235 112,238.3 120.3,241.3 132,245.1 143.8,248.5 159.4,251.6 194.5,257.8 206.2,260.3" fill="none" stroke="#3a3a3a" stroke-opacity="0.75" stroke-width="0.6"/><path d="M50.2,208.3 59.6,221.3 64.1,226.3 69.5,231.6 75.2,236.3 81.2,240.7 85.9,243.3 93,246.5 103.2,250.3 124.2,257.2 132,259.4 139.8,261.2 151.6,263.4 175.4,266.3 190.6,268.7 206.2,270.7" fill="none" stroke="#3a3a3a" stroke-opacity="0.75" stroke-width="0.6"/><path d="M50,238.6 52.5,243.3 55.4,247.3 57.3,249.3 59.4,251.3 63.6,254.3 67.3,256.3 69.5,257.3 75.1,259.3 81.2,261.1 85.2,263.1 88,264.3 94,266.3 101.8,268.3 112.5,270.6 126.3,274.3 132,275.5 139.8,276.8 155.5,278.9 182.8,281.6 194.5,282.5 206.2,283.1" fill="none" stroke="#3a3a3a" stroke-opacity="0.75" stroke-width="0.6"/></g></g>
<g><rect x="321.5" y="208.3" width="156.2" height="149.9" fill="#0b3381"/><path d="M321.5,208.3 468.8,208.3 477.8,210.3 477.8,358.2 321.5,358.2Z" fill="#0d3b8c"/><path d="M321.5,208.3 456,208.3 466,211.3 477.8,214.2 477.8,358.2 321.5,358.2Z" fill="#104496"/><path d="M321.5,208.3 445.5,208.3 457.9,212.3 469.9,215.3 473.8,216.5 477.7,218.1 477.8,358.2 321.5,358.2Z" fill="#134ca0"/><path d="M321.5,208.3 436.9,208.3 442.6,210.6 447.8,212.3 460,215.3 466.9,217.3 472.3,219.3 477.8,221.8 477.8,358.2 321.5,358.2Z" fill="#1655a9"/><path d="M321.5,208.3 429.5,208.3 439.2,212.3 458.2,217.3 464.5,219.3 472.3,222.3 477.8,223.6 477.8,358.2 321.5,358.2Z" fill="#1a5eb0"/><path d="M321.5,208.3 422.7,208.3 430.9,211.9 434.8,213.2 454.3,218.6 465.5,222.3 477.8,225.3 477.8,358.2 321.5,358.2Z" fill="#1e67b8"/><path d="M321.5,208.3 416,208.3 425.3,212.3 434.2,215.3 448.9,219.3 462.1,223.3 469.9,225.2 477.8,226.9 477.8,358.2 321.5,358.2Z" fill="#2572bf"/><path d="M321.5,208.3 409.4,208.3 421.3,213.3 429.8,216.3 442.6,219.7 462.1,225.2 477.8,228.5 477.8,358.2 321.5,358.2Z" fill="#2f7dc6"/><path d="M321.5,208.3 403,208.3 417.1,214.3 423.1,216.5 454.6,225.3 466,227.9 477.8,230.2 477.8,358.2 321.5,358.2Z" fill="#3988cc"/><path d="M321.5,208.3 396.9,208.3 415.2,216.3 423.1,218.7 446.8,225.3 454.3,227.2 466,229.7 477.7,231.8 477.8,358.2 321.5,358.2Z" fill="#4795d2"/><path d="M321.5,208.3 391,208.3 408.8,216.3 421,220.3 438.9,225.3 450.8,228.3 462.1,230.7 477.8,233.7 477.8,358.2 321.5,358.2Z" fill="#5aa2d8"/><path d="M321.5,208.3 385.3,208.3 394.4,212.3 402.8,216.3 411.3,219.4 419.2,221.9 434.7,226.3 450.4,230.2 462.1,232.6 477.8,235.5 477.8,358.2 321.5,358.2Z" fill="#6dafdf"/><path d="M321.5,208.3 380.5,208.3 384,210.2 399.6,217.3 407.4,220.3 419.2,224.1 430.9,227.4 446.5,231.3 460.9,234.3 477.8,237.4 477.8,358.2 321.5,358.2Z" fill="#80bbe4"/><path d="M321.5,208.3 375.9,208.3 384,212.6 396.3,218.3 403.7,221.3 415.2,225.2 433.6,230.3 442.6,232.5 458.2,235.7 477.8,239.3 477.8,358.2 321.5,358.2Z" fill="#94c6e9"/><path d="M321.5,208.3 371.4,208.3 380.1,213.1 392.9,219.3 400.1,222.3 411.7,226.3 428.9,231.3 438.7,233.7 465.9,239.3 477.8,241.1 477.8,358.2 321.5,358.2Z" fill="#a8d0ee"/><path d="M321.5,208.3 366.8,208.3 376.2,213.7 391.6,221.3 399.6,224.5 410.8,228.3 423.9,232.3 434.8,235 462.1,240.8 477.8,243.1 477.8,358.2 321.5,358.2Z" fill="#b8d8f1"/><path d="M321.5,208.3 362.3,208.3 367,211.3 372.3,214.3 388,222.3 397.8,226.3 415.2,232.2 427,235.5 450.4,240.9 462.1,243.1 477.8,245.6 477.8,358.2 321.5,358.2Z" fill="#c5def2"/><path d="M321.5,208.3 357.7,208.3 362.3,211.3 367.3,214.3 384.3,223.3 393.8,227.3 411.3,233.6 423.1,237 445,242.3 462.1,245.7 477.7,248.2 477.8,358.2 321.5,358.2Z" fill="#d2e4f4"/><path d="M321.5,208.3 353.2,208.3 359,212.3 364,215.3 372.9,220.3 380.6,224.3 387.9,227.6 405.5,234.3 419.2,238.5 438.7,243.5 462.1,248.3 469.9,249.7 477.8,250.8 477.8,358.2 321.5,358.2Z" fill="#dde8f4"/><path d="M321.5,208.3 348,208.3 360.5,216.3 369.2,221.3 376.8,225.3 384,228.8 395.7,233.4 403.5,236.2 419.2,241.1 434.8,245.2 450.4,248.6 462.1,251 469.9,252.3 477.8,253.3 477.8,358.2 321.5,358.2Z" fill="#e6eaf2"/><path d="M321.5,208.3 342.7,208.3 348.6,212.3 360.3,219.3 372.3,226 384,231.6 390.7,234.3 399.1,237.3 411.3,241.4 424.7,245.3 442.6,249.5 455.3,252.3 477.8,255.9 477.8,358.2 321.5,358.2Z" fill="#efedf1"/><path d="M321.5,208.3 337.5,208.3 342.8,212.3 347.6,215.3 352.8,218 364.5,224.9 375,230.3 383.7,234.3 411.3,244 415.6,245.3 443.4,252.3 448.2,253.3 466.6,256.3 477.8,258.4 477.8,358.2 321.5,358.2Z" fill="#f5e9e8"/><path d="M321.5,208.3 332.2,208.3 337.1,212.4 342.9,216.3 348.3,219.3 352.8,221.4 363,227.3 370.8,231.3 377.2,234.3 407.4,245.2 437.9,253.3 477.8,260.4 477.8,358.2 321.5,358.2Z" fill="#f8e0d7"/><path d="M321.5,208.3 327,208.3 330,211.3 333.2,214 337.1,216.8 341,219.2 346.9,222.3 352.8,224.8 360.7,229.3 370.7,234.3 376.2,236.4 384,239 400.6,245.3 411.3,248.4 430.9,253.6 442.6,256 477.7,262.2 477.8,358.2 321.5,358.2Z" fill="#fad7c6"/><path d="M321.5,208.3 321.7,208.3 325.4,212.3 328.6,215.3 332.5,218.3 337.2,221.3 340.9,223.3 344.9,225.2 352.8,228.2 364.2,234.3 372.3,237.5 384,241.3 394.2,245.3 399.6,247.1 407.4,249.5 423.1,253.7 430.9,255.5 438.7,257.1 477.8,264.1 477.8,358.2 321.5,358.2Z" fill="#fbcbb5"/><path d="M321.5,215.3 321.5,214.5 325.6,218.3 331.1,222.3 336.3,225.3 340.5,227.3 345.6,229.3 352.8,231.7 359.8,235.3 368.4,238.8 375.7,241.3 384,243.6 391.8,246.6 399.6,249.3 415.2,253.7 427,256.6 442.6,259.6 477.8,265.9 477.8,357.2 477.8,358.2 321.5,358.2Z" fill="#fbbda4"/><path d="M321.5,221.3 321.5,220.9 325.9,224.3 330.9,227.3 337.8,230.3 344.9,232.8 352.8,235.1 359.6,238.3 367.6,241.3 376.2,243.9 384,245.9 395.7,250.2 403.5,252.6 415.2,255.9 425.7,258.3 477.8,267.8 477.8,357.2 477.8,358.2 321.5,358.2Z" fill="#fbaf93"/><path d="M321.5,228.3 321.5,227.4 327.2,230.3 334.6,233.3 343.9,236.3 352.8,238.5 359.4,241.3 365.1,243.3 375.6,246.3 384,248.2 389.2,250.3 395.7,252.5 403.5,254.9 411.3,257 419.2,258.8 430.9,261.1 465.9,267.3 477.8,269.5 477.8,357.2 477.8,358.2 321.5,358.2Z" fill="#fba082"/><path d="M321.5,233.3 321.5,232.8 329.3,235.9 337.1,238.4 344.8,240.3 352.8,241.9 359.1,244.3 365.6,246.3 376.2,249 384,250.7 395.7,254.8 407.8,258.3 419.2,260.7 432.4,263.3 477.8,270.9 477.8,357.2 477.8,358.2 321.5,358.2Z" fill="#fb9072"/><path d="M321.5,238.3 321.5,238.1 329.3,240.6 336,242.3 344.9,244.1 352.8,245.3 358.7,247.3 368.4,249.9 384,253.3 391.8,256 399.4,258.3 411.3,261.1 422.4,263.3 433.8,265.3 458.1,269.3 477.7,272.2 477.8,357.2 477.8,358.2 321.5,358.2Z" fill="#fb8062"/><path d="M321.5,244.3 321.5,243.5 329.2,245.3 334.5,246.3 344.9,247.8 352.8,248.8 360.6,250.9 368.4,252.8 384,255.9 391.4,258.3 399.6,260.5 407.6,262.3 417.7,264.3 450.4,269.6 477.8,273.4 477.8,357.2 477.8,358.2 321.5,358.2Z" fill="#fa7053"/><path d="M321.5,249.3 321.5,248.9 329.3,250 337.1,250.9 352.8,252.2 360.6,254.1 368.4,255.7 384,258.4 390.2,260.3 395.7,261.7 412.5,265.3 443.7,270.3 477.8,274.7 477.8,357.2 477.8,358.2 321.5,358.2Z" fill="#fa5f46"/><path d="M321.5,254.3 337.1,255.1 352.8,255.6 368.4,258.7 384,260.9 396.7,264.3 407.4,266.4 426.4,269.3 437.5,271.3 455.1,273.3 469.3,275.3 477.8,276 477.8,357.2 477.8,358.2 321.5,358.2Z" fill="#f84e39"/><path d="M337.5,259.3 352.8,259 364.5,261.3 372.3,262.4 384,263.6 389.2,265.3 393.3,266.3 403.5,268.1 412.4,269.3 417.4,270.3 423.1,271.6 426.8,272.3 447.5,274.3 451.9,275.3 458.2,276.3 466,276.9 477.8,277.4 477.8,358.2 462.1,358.2 321.5,358.2 321.5,259.7Z" fill="#f53f2e"/><path d="M343.1,264.3 352.8,263.5 384,267.7 399,270.3 409.6,273.3 414,274.3 431.8,277.3 458.2,280.9 477.8,283.1 477.8,358.2 458.2,358.2 321.5,358.2 321.5,267.4 329.3,265.9Z" fill="#ee3026"/><path d="M350.4,268.3 352.8,267.9 384,271.9 407.4,277.7 423.1,280.9 434.8,282.9 450.4,285.3 466,287.4 477.8,288.8 477.8,358.2 450.4,358.2 321.5,358.2 321.5,275.3 323.9,274.3 326.8,273.3 333.2,271.5 341,269.8Z" fill="#e62520"/><path d="M348.6,273.3 352.8,272.4 384,276.1 407.4,282.5 423.1,285.9 434.8,288.1 450.4,290.7 466,293.1 477.8,294.6 477.8,358.2 454.3,358.2 321.5,358.2 321.5,290 323.9,286.2 325.5,284.2 328.7,281.3 331.6,279.3 335.4,277.3 337.7,276.3 341,275.1Z" fill="#dd1e1c"/><path d="M351.4,277.3 352.8,276.9 384,280.3 407.4,287.2 419.2,290.1 446.5,295.5 462.1,298.1 477.8,300.3 477.8,358.2 450.4,358.2 321.5,358.2 321.5,309.6 325.3,301.2 328.2,295.2 330.8,290.2 333.4,286.2 335.8,284.2 340.8,281.3 345.4,279.3Z" fill="#d41919"/><path d="M350.4,282.3 352.8,281.3 384,284.5 395.6,288.2 403.5,291.2 411.2,293.2 427,296.5 446.5,300.8 469.9,304.6 477.8,306.1 477.8,358.2 450.4,358.2 321.5,358.2 321.5,335.6 325.1,323.2 329.3,311.5 331.2,307.2 335.2,299.2 340.3,290.2 342.9,286.2 344.9,284.8Z" fill="#cb1416"/><path d="M352.4,286.2 352.8,286 360,287.2 364.5,287.7 384,289 386.6,291.2 389.9,293.2 392.3,294.2 395.4,295.2 399.3,296.2 415.9,299.2 425.5,302.2 434,304.2 446.6,306.2 454.5,308.2 462.1,309.8 477.8,311.9 477.8,358.2 450.4,358.2 322.5,358.2 324.8,348.2 327.8,337.2 330.4,329.2 333.9,320.2 338.3,310.2 343.5,300.2 347.8,293.2Z" fill="#bf1014"/><path d="M352.4,300.2 352.8,299.7 384,304.2 394.2,306.2 419.2,310.5 446.5,316.8 462.1,319.9 477.8,322.8 477.8,358.2 454.3,358.2 328,358.2 329.8,351.2 331,347.2 334.9,336.2 337.2,330.2 339.8,324.2 342.7,318.2 347.4,309.2Z" fill="#b20d11"/><path d="M352.5,315.2 352.8,314.8 361.8,316.2 384,320.2 395.7,320.4 411.3,321 419.2,321.6 423.1,322.2 430.9,323.9 446.5,328.2 465.2,332.2 477.8,335.2 477.8,358.2 462.1,358.2 333.5,358.2 335.9,350.2 342.1,335.2 347.4,324.2Z" fill="#a50a0e"/><path d="M352.6,328.2 352.8,328 384,332.4 395.7,332.1 415.2,332 419.2,332.2 423.1,332.7 429.8,334.2 442.6,338 466,343.9 477.8,347 477.8,358.2 469.9,358.2 339,358.2 341.3,351.2 342.6,348.2 348.9,335.2Z" fill="#96070c"/><path d="M352.5,341.2 352.8,340.7 384,344.3 391.8,342.8 399.6,342.1 411.3,341.8 419.2,342 423.1,342.7 427,343.7 442.6,348.7 447.9,350.2 456.7,353.2 469.9,357.4 472.6,358.2 344.5,358.2 347,351.2 349.6,346.2Z" fill="#85040a"/><path d="M352.4,352.2 352.8,351.3 376.2,352.4 403.5,352.9 415.2,353.4 419.2,354.2 423.1,355.5 429.4,358.2 350,358.2Z" fill="#740109"/><mask id="md" maskUnits="userSpaceOnUse" x="0" y="0" width="520" height="383"><rect width="520" height="383" fill="#fff"/><rect x="405.5" y="212.6" width="20" height="7" fill="#000"/><rect x="436.9" y="234.1" width="20" height="7" fill="#000"/><rect x="374.4" y="230.9" width="20" height="7" fill="#000"/><rect x="405.5" y="254.3" width="20" height="7" fill="#000"/><rect x="343.2" y="255.1" width="20" height="7" fill="#000"/><rect x="436.5" y="303" width="20" height="7" fill="#000"/></mask><g mask="url(#md)"><path d="M325,358.5 352.8,285.8 384,288.7 415.2,297 446.5,306.5 477.7,312" fill="none" stroke="#4a1010" stroke-opacity="0.55" stroke-width="0.6" stroke-dasharray="0.8 0.9"/><path d="M436.9,208.3 442.6,210.6 447.8,212.3 460,215.3 466.9,217.3 472.3,219.3 477.8,221.8" fill="none" stroke="#3a3a3a" stroke-opacity="0.75" stroke-width="0.6"/><path d="M396.9,208.3 415.2,216.3 423.1,218.7 446.8,225.3 454.3,227.2 466,229.7 477.8,231.8" fill="none" stroke="#3a3a3a" stroke-opacity="0.75" stroke-width="0.6"/><path d="M366.8,208.3 376.2,213.7 391.6,221.3 399.6,224.5 410.8,228.3 423.9,232.3 434.8,235 462.1,240.8 477.8,243.1" fill="none" stroke="#3a3a3a" stroke-opacity="0.75" stroke-width="0.6"/><path d="M337.5,208.3 341,211.1 344.9,213.7 352.8,218 361.6,223.3 372.3,229 384,234.4 403.5,241.3 415.6,245.3 446.5,252.9 466.6,256.3 477.8,258.4" fill="none" stroke="#3a3a3a" stroke-opacity="0.75" stroke-width="0.6"/><path d="M321.5,227.4 325.1,229.3 329.3,231.2 337.4,234.3 344.9,236.6 352.8,238.5 359.4,241.3 365.1,243.3 375.6,246.3 384,248.2 389.2,250.3 395.1,252.3 408.5,256.3 416.5,258.3 427,260.4 442.6,263.3 466,267.3 477.8,269.5" fill="none" stroke="#3a3a3a" stroke-opacity="0.75" stroke-width="0.6"/><path d="M321.5,259.7 352.8,259 364.5,261.3 372.3,262.4 384,263.6 389.2,265.3 393.3,266.3 403.5,268.1 412.4,269.3 417.4,270.3 423.1,271.6 426.8,272.3 447.5,274.3 451.9,275.3 458.2,276.3 466,276.9 477.8,277.4" fill="none" stroke="#3a3a3a" stroke-opacity="0.75" stroke-width="0.6"/></g></g>
<rect x="50" y="15" width="156.25" height="149.5" fill="none" stroke="#444" stroke-width="0.5"/>
<path d="M47.5,15 H206.25" stroke="#555" stroke-width="1" fill="none"/>
<path d="M50,164.5 v2.2M65.62,164.5 v1.3M81.25,164.5 v2.2M96.88,164.5 v1.3M112.5,164.5 v2.2M128.12,164.5 v1.3M143.75,164.5 v2.2M159.38,164.5 v1.3M175,164.5 v2.2M190.62,164.5 v1.3M206.25,164.5 v2.2M50,15 h-2.5M50,52.38 h-1.5M50,89.75 h-2.5M50,127.12 h-1.5M50,164.5 h-2.5" stroke="#444" stroke-width="0.6" fill="none"/>
<text x="50.4" y="175.4" font-size="6.3" text-anchor="middle" font-weight="normal" fill="#111">0.5</text>
<text x="81.65" y="175.4" font-size="6.3" text-anchor="middle" font-weight="normal" fill="#111">1.0</text>
<text x="112.9" y="175.4" font-size="6.3" text-anchor="middle" font-weight="normal" fill="#111">1.5</text>
<text x="144.15" y="175.4" font-size="6.3" text-anchor="middle" font-weight="normal" fill="#111">2.0</text>
<text x="175.4" y="175.4" font-size="6.3" text-anchor="middle" font-weight="normal" fill="#111">2.5</text>
<text x="206.65" y="175.4" font-size="6.3" text-anchor="middle" font-weight="normal" fill="#111">3.0</text>
<text x="44.6" y="20.3" font-size="6.4" text-anchor="end" fill="#111">1.0×10<tspan font-size="5.2" dx="0.6" dy="-3.5">17</tspan></text>
<text x="44.6" y="95.05" font-size="6.4" text-anchor="end" fill="#111">1.0×10<tspan font-size="5.2" dx="0.6" dy="-3.5">16</tspan></text>
<text x="44.6" y="169.8" font-size="6.4" text-anchor="end" fill="#111">1.0×10<tspan font-size="5.2" dx="0.6" dy="-3.5">15</tspan></text>
<text x="128.93" y="186.7" font-size="7.75" text-anchor="middle" font-weight="normal" fill="#111">Thickness (µm)</text>
<text transform="translate(7.2,89.75) rotate(-90)" font-size="7.8" text-anchor="middle" fill="#111">Defect density (cm<tspan font-size="5" dy="-2.6">-3</tspan><tspan dy="2.6">)</tspan></text>
<text x="144" y="30.65" font-size="7.6" text-anchor="middle" font-weight="normal" fill="#000">1.000</text>
<text x="175.1" y="52.75" font-size="7.6" text-anchor="middle" font-weight="normal" fill="#000">1.008</text>
<text x="113" y="50.85" font-size="7.6" text-anchor="middle" font-weight="normal" fill="#000">1.016</text>
<text x="144" y="75.65" font-size="7.6" text-anchor="middle" font-weight="normal" fill="#000">1.024</text>
<text x="175.3" y="102.15" font-size="7.6" text-anchor="middle" font-weight="normal" fill="#000">1.031</text>
<text x="112.8" y="120.45" font-size="7.6" text-anchor="middle" font-weight="normal" fill="#000">1.039</text>
<rect x="186.25" y="15" width="20" height="18.5" fill="#b37850"/>
<text x="196.25" y="27.5" font-size="9.5" text-anchor="middle" font-weight="bold" fill="#fff" class="w">(a)</text>
<linearGradient id="cga" x1="0" y1="0" x2="0" y2="1"><stop offset="0" stop-color="#6c0008"/><stop offset="0.06" stop-color="#9e080d"/><stop offset="0.12" stop-color="#c61215"/><stop offset="0.19" stop-color="#e2201d"/><stop offset="0.22" stop-color="#ee3026"/><stop offset="0.25" stop-color="#f84632"/><stop offset="0.31" stop-color="#fb785a"/><stop offset="0.38" stop-color="#fba88a"/><stop offset="0.44" stop-color="#fbd2be"/><stop offset="0.5" stop-color="#f4eef0"/><stop offset="0.56" stop-color="#d8e7f5"/><stop offset="0.62" stop-color="#b2d5f0"/><stop offset="0.69" stop-color="#76b6e2"/><stop offset="0.75" stop-color="#3e8ecf"/><stop offset="0.81" stop-color="#206cbc"/><stop offset="0.88" stop-color="#1450a5"/><stop offset="0.94" stop-color="#0c3787"/><stop offset="1" stop-color="#082064"/></linearGradient>
<rect x="217.5" y="18.6" width="12.6" height="143.6" fill="url(#cga)"/>
<rect x="217.5" y="15" width="12.6" height="3.6" fill="#fff"/>
<rect x="217.5" y="162.2" width="12.6" height="3" fill="#000"/>
<rect x="217.5" y="15" width="12.6" height="150.2" fill="none" stroke="#555" stroke-width="0.5"/>
<text x="234.8" y="164.2" font-size="4.7" text-anchor="start" font-weight="normal" fill="#111">0.9846</text>
<text x="234.8" y="146.25" font-size="4.7" text-anchor="start" font-weight="normal" fill="#111">0.9924</text>
<text x="234.8" y="128.3" font-size="4.7" text-anchor="start" font-weight="normal" fill="#111">1.000</text>
<text x="234.8" y="110.35" font-size="4.7" text-anchor="start" font-weight="normal" fill="#111">1.008</text>
<text x="234.8" y="92.4" font-size="4.7" text-anchor="start" font-weight="normal" fill="#111">1.016</text>
<text x="234.8" y="74.45" font-size="4.7" text-anchor="start" font-weight="normal" fill="#111">1.024</text>
<text x="234.8" y="56.5" font-size="4.7" text-anchor="start" font-weight="normal" fill="#111">1.031</text>
<text x="234.8" y="38.55" font-size="4.7" text-anchor="start" font-weight="normal" fill="#111">1.039</text>
<text x="234.8" y="20.6" font-size="4.7" text-anchor="start" font-weight="normal" fill="#111">1.047</text>
<path d="M230.1,162.2 h2.3M230.1,144.25 h2.3M230.1,126.3 h2.3M230.1,108.35 h2.3M230.1,90.4 h2.3M230.1,72.45 h2.3M230.1,54.5 h2.3M230.1,36.55 h2.3M230.1,18.6 h2.3" stroke="#444" stroke-width="0.5" fill="none"/>
<text x="223.8" y="8.9" font-size="7.4" text-anchor="middle" font-weight="normal" fill="#111">V<tspan font-size="4.8" dy="1.6">OC</tspan><tspan dy="-1.6"> (V)</tspan></text>
<rect x="321.5" y="15" width="156.25" height="149.5" fill="none" stroke="#444" stroke-width="0.5"/>
<path d="M319,15 H477.75" stroke="#555" stroke-width="1" fill="none"/>
<path d="M321.5,164.5 v2.2M337.12,164.5 v1.3M352.75,164.5 v2.2M368.38,164.5 v1.3M384,164.5 v2.2M399.62,164.5 v1.3M415.25,164.5 v2.2M430.88,164.5 v1.3M446.5,164.5 v2.2M462.12,164.5 v1.3M477.75,164.5 v2.2M321.5,15 h-2.5M321.5,52.38 h-1.5M321.5,89.75 h-2.5M321.5,127.12 h-1.5M321.5,164.5 h-2.5" stroke="#444" stroke-width="0.6" fill="none"/>
<text x="321.9" y="175.4" font-size="6.3" text-anchor="middle" font-weight="normal" fill="#111">0.5</text>
<text x="353.15" y="175.4" font-size="6.3" text-anchor="middle" font-weight="normal" fill="#111">1.0</text>
<text x="384.4" y="175.4" font-size="6.3" text-anchor="middle" font-weight="normal" fill="#111">1.5</text>
<text x="415.65" y="175.4" font-size="6.3" text-anchor="middle" font-weight="normal" fill="#111">2.0</text>
<text x="446.9" y="175.4" font-size="6.3" text-anchor="middle" font-weight="normal" fill="#111">2.5</text>
<text x="478.15" y="175.4" font-size="6.3" text-anchor="middle" font-weight="normal" fill="#111">3.0</text>
<text x="316.1" y="20.3" font-size="6.4" text-anchor="end" fill="#111">1.0×10<tspan font-size="5.2" dx="0.6" dy="-3.5">17</tspan></text>
<text x="316.1" y="95.05" font-size="6.4" text-anchor="end" fill="#111">1.0×10<tspan font-size="5.2" dx="0.6" dy="-3.5">16</tspan></text>
<text x="316.1" y="169.8" font-size="6.4" text-anchor="end" fill="#111">1.0×10<tspan font-size="5.2" dx="0.6" dy="-3.5">15</tspan></text>
<text x="400.43" y="186.7" font-size="7.75" text-anchor="middle" font-weight="normal" fill="#111">Thickness (µm)</text>
<text transform="translate(278.7,89.75) rotate(-90)" font-size="7.8" text-anchor="middle" fill="#111">Defect density (cm<tspan font-size="5" dy="-2.6">-3</tspan><tspan dy="2.6">)</tspan></text>
<text x="446.9" y="30.45" font-size="7.6" text-anchor="middle" font-weight="normal" fill="#000">32.18</text>
<text x="415.7" y="31.75" font-size="7.6" text-anchor="middle" font-weight="normal" fill="#000">33.84</text>
<text x="446.9" y="54.05" font-size="7.6" text-anchor="middle" font-weight="normal" fill="#000">35.50</text>
<text x="384.4" y="51.45" font-size="7.6" text-anchor="middle" font-weight="normal" fill="#000">37.16</text>
<text x="415.7" y="74.85" font-size="7.6" text-anchor="middle" font-weight="normal" fill="#000">38.83</text>
<text x="346.4" y="91.75" font-size="7.6" text-anchor="middle" font-weight="normal" fill="#000">40.49</text>
<rect x="457.75" y="15" width="20" height="18.5" fill="#b37850"/>
<text x="467.75" y="27.5" font-size="9.5" text-anchor="middle" font-weight="bold" fill="#fff" class="w">(b)</text>
<linearGradient id="cgb" x1="0" y1="0" x2="0" y2="1"><stop offset="0" stop-color="#6c0008"/><stop offset="0.06" stop-color="#9e080d"/><stop offset="0.12" stop-color="#c61215"/><stop offset="0.19" stop-color="#e2201d"/><stop offset="0.22" stop-color="#ee3026"/><stop offset="0.25" stop-color="#f84632"/><stop offset="0.31" stop-color="#fb785a"/><stop offset="0.38" stop-color="#fba88a"/><stop offset="0.44" stop-color="#fbd2be"/><stop offset="0.5" stop-color="#f4eef0"/><stop offset="0.56" stop-color="#d8e7f5"/><stop offset="0.62" stop-color="#b2d5f0"/><stop offset="0.69" stop-color="#76b6e2"/><stop offset="0.75" stop-color="#3e8ecf"/><stop offset="0.81" stop-color="#206cbc"/><stop offset="0.88" stop-color="#1450a5"/><stop offset="0.94" stop-color="#0c3787"/><stop offset="1" stop-color="#082064"/></linearGradient>
<rect x="489" y="18.6" width="12.6" height="143.6" fill="url(#cgb)"/>
<rect x="489" y="15" width="12.6" height="3.6" fill="#fff"/>
<rect x="489" y="162.2" width="12.6" height="3" fill="#000"/>
<rect x="489" y="15" width="12.6" height="150.2" fill="none" stroke="#555" stroke-width="0.5"/>
<text x="506.3" y="164.2" font-size="4.7" text-anchor="start" font-weight="normal" fill="#111">28.55</text>
<text x="506.3" y="146.25" font-size="4.7" text-anchor="start" font-weight="normal" fill="#111">30.51</text>
<text x="506.3" y="128.3" font-size="4.7" text-anchor="start" font-weight="normal" fill="#111">32.18</text>
<text x="506.3" y="110.35" font-size="4.7" text-anchor="start" font-weight="normal" fill="#111">33.84</text>
<text x="506.3" y="92.4" font-size="4.7" text-anchor="start" font-weight="normal" fill="#111">35.50</text>
<text x="506.3" y="74.45" font-size="4.7" text-anchor="start" font-weight="normal" fill="#111">37.16</text>
<text x="506.3" y="56.5" font-size="4.7" text-anchor="start" font-weight="normal" fill="#111">38.83</text>
<text x="506.3" y="38.55" font-size="4.7" text-anchor="start" font-weight="normal" fill="#111">40.49</text>
<text x="506.3" y="20.6" font-size="4.7" text-anchor="start" font-weight="normal" fill="#111">42.15</text>
<path d="M501.6,162.2 h2.3M501.6,144.25 h2.3M501.6,126.3 h2.3M501.6,108.35 h2.3M501.6,90.4 h2.3M501.6,72.45 h2.3M501.6,54.5 h2.3M501.6,36.55 h2.3M501.6,18.6 h2.3" stroke="#444" stroke-width="0.5" fill="none"/>
<text x="495.3" y="8.9" font-size="7.4" text-anchor="middle" font-weight="normal" fill="#111">J<tspan font-size="4.8" dy="1.6">SC</tspan><tspan dy="-1.6"> (mA/cm</tspan><tspan font-size="4.8" dy="-3">2</tspan><tspan dy="3">)</tspan></text>
<rect x="50" y="208.3" width="156.25" height="149.9" fill="none" stroke="#444" stroke-width="0.5"/>
<path d="M47.5,208.3 H206.25" stroke="#555" stroke-width="1" fill="none"/>
<path d="M50,358.2 v2.2M65.62,358.2 v1.3M81.25,358.2 v2.2M96.88,358.2 v1.3M112.5,358.2 v2.2M128.12,358.2 v1.3M143.75,358.2 v2.2M159.38,358.2 v1.3M175,358.2 v2.2M190.62,358.2 v1.3M206.25,358.2 v2.2M50,208.3 h-2.5M50,245.78 h-1.5M50,283.25 h-2.5M50,320.73 h-1.5M50,358.2 h-2.5" stroke="#444" stroke-width="0.6" fill="none"/>
<text x="50.4" y="368.7" font-size="6.3" text-anchor="middle" font-weight="normal" fill="#111">0.5</text>
<text x="81.65" y="368.7" font-size="6.3" text-anchor="middle" font-weight="normal" fill="#111">1.0</text>
<text x="112.9" y="368.7" font-size="6.3" text-anchor="middle" font-weight="normal" fill="#111">1.5</text>
<text x="144.15" y="368.7" font-size="6.3" text-anchor="middle" font-weight="normal" fill="#111">2.0</text>
<text x="175.4" y="368.7" font-size="6.3" text-anchor="middle" font-weight="normal" fill="#111">2.5</text>
<text x="206.65" y="368.7" font-size="6.3" text-anchor="middle" font-weight="normal" fill="#111">3.0</text>
<text x="44.6" y="213.6" font-size="6.4" text-anchor="end" fill="#111">1.0×10<tspan font-size="5.2" dx="0.6" dy="-3.5">17</tspan></text>
<text x="44.6" y="288.55" font-size="6.4" text-anchor="end" fill="#111">1.0×10<tspan font-size="5.2" dx="0.6" dy="-3.5">16</tspan></text>
<text x="44.6" y="363.5" font-size="6.4" text-anchor="end" fill="#111">1.0×10<tspan font-size="5.2" dx="0.6" dy="-3.5">15</tspan></text>
<text x="128.93" y="379.8" font-size="7.75" text-anchor="middle" font-weight="normal" fill="#111">Thickness (µm)</text>
<text transform="translate(7.2,283.25) rotate(-90)" font-size="7.8" text-anchor="middle" fill="#111">Defect density (cm<tspan font-size="5" dy="-2.6">-3</tspan><tspan dy="2.6">)</tspan></text>
<text x="143.9" y="222.05" font-size="7.6" text-anchor="middle" font-weight="normal" fill="#000">60.74</text>
<text x="174.8" y="244.15" font-size="7.6" text-anchor="middle" font-weight="normal" fill="#000">62.68</text>
<text x="112.8" y="241.15" font-size="7.6" text-anchor="middle" font-weight="normal" fill="#000">64.63</text>
<text x="143.9" y="265.45" font-size="7.6" text-anchor="middle" font-weight="normal" fill="#000">66.57</text>
<text x="80.9" y="263.25" font-size="7.6" text-anchor="middle" font-weight="normal" fill="#000">68.51</text>
<text x="175" y="324.95" font-size="7.6" text-anchor="middle" font-weight="normal" fill="#000">70.46</text>
<rect x="186.25" y="208.3" width="20" height="18.8" fill="#b37850"/>
<text x="196.25" y="221.2" font-size="9.5" text-anchor="middle" font-weight="bold" fill="#fff" class="w">(c)</text>
<linearGradient id="cgc" x1="0" y1="0" x2="0" y2="1"><stop offset="0" stop-color="#6c0008"/><stop offset="0.06" stop-color="#9e080d"/><stop offset="0.12" stop-color="#c61215"/><stop offset="0.19" stop-color="#e2201d"/><stop offset="0.22" stop-color="#ee3026"/><stop offset="0.25" stop-color="#f84632"/><stop offset="0.31" stop-color="#fb785a"/><stop offset="0.38" stop-color="#fba88a"/><stop offset="0.44" stop-color="#fbd2be"/><stop offset="0.5" stop-color="#f4eef0"/><stop offset="0.56" stop-color="#d8e7f5"/><stop offset="0.62" stop-color="#b2d5f0"/><stop offset="0.69" stop-color="#76b6e2"/><stop offset="0.75" stop-color="#3e8ecf"/><stop offset="0.81" stop-color="#206cbc"/><stop offset="0.88" stop-color="#1450a5"/><stop offset="0.94" stop-color="#0c3787"/><stop offset="1" stop-color="#082064"/></linearGradient>
<rect x="217.5" y="211.7" width="12.6" height="143.5" fill="url(#cgc)"/>
<rect x="217.5" y="208.2" width="12.6" height="3.5" fill="#fff"/>
<rect x="217.5" y="355.2" width="12.6" height="3.4" fill="#000"/>
<rect x="217.5" y="208.2" width="12.6" height="150.4" fill="none" stroke="#555" stroke-width="0.5"/>
<text x="234.8" y="357.2" font-size="4.7" text-anchor="start" font-weight="normal" fill="#111">56.85</text>
<text x="234.8" y="339.26" font-size="4.7" text-anchor="start" font-weight="normal" fill="#111">58.79</text>
<text x="234.8" y="321.32" font-size="4.7" text-anchor="start" font-weight="normal" fill="#111">60.74</text>
<text x="234.8" y="303.39" font-size="4.7" text-anchor="start" font-weight="normal" fill="#111">62.68</text>
<text x="234.8" y="285.45" font-size="4.7" text-anchor="start" font-weight="normal" fill="#111">64.63</text>
<text x="234.8" y="267.51" font-size="4.7" text-anchor="start" font-weight="normal" fill="#111">66.57</text>
<text x="234.8" y="249.57" font-size="4.7" text-anchor="start" font-weight="normal" fill="#111">68.51</text>
<text x="234.8" y="231.64" font-size="4.7" text-anchor="start" font-weight="normal" fill="#111">70.46</text>
<text x="234.8" y="213.7" font-size="4.7" text-anchor="start" font-weight="normal" fill="#111">72.40</text>
<path d="M230.1,355.2 h2.3M230.1,337.26 h2.3M230.1,319.32 h2.3M230.1,301.39 h2.3M230.1,283.45 h2.3M230.1,265.51 h2.3M230.1,247.57 h2.3M230.1,229.64 h2.3M230.1,211.7 h2.3" stroke="#444" stroke-width="0.5" fill="none"/>
<text x="216.7" y="202.9" font-size="7.5" text-anchor="start" font-weight="normal" fill="#111">FF (%)</text>
<rect x="321.5" y="208.3" width="156.25" height="149.9" fill="none" stroke="#444" stroke-width="0.5"/>
<path d="M319,208.3 H477.75" stroke="#555" stroke-width="1" fill="none"/>
<path d="M321.5,358.2 v2.2M337.12,358.2 v1.3M352.75,358.2 v2.2M368.38,358.2 v1.3M384,358.2 v2.2M399.62,358.2 v1.3M415.25,358.2 v2.2M430.88,358.2 v1.3M446.5,358.2 v2.2M462.12,358.2 v1.3M477.75,358.2 v2.2M321.5,208.3 h-2.5M321.5,245.78 h-1.5M321.5,283.25 h-2.5M321.5,320.73 h-1.5M321.5,358.2 h-2.5" stroke="#444" stroke-width="0.6" fill="none"/>
<text x="321.9" y="368.7" font-size="6.3" text-anchor="middle" font-weight="normal" fill="#111">0.5</text>
<text x="353.15" y="368.7" font-size="6.3" text-anchor="middle" font-weight="normal" fill="#111">1.0</text>
<text x="384.4" y="368.7" font-size="6.3" text-anchor="middle" font-weight="normal" fill="#111">1.5</text>
<text x="415.65" y="368.7" font-size="6.3" text-anchor="middle" font-weight="normal" fill="#111">2.0</text>
<text x="446.9" y="368.7" font-size="6.3" text-anchor="middle" font-weight="normal" fill="#111">2.5</text>
<text x="478.15" y="368.7" font-size="6.3" text-anchor="middle" font-weight="normal" fill="#111">3.0</text>
<text x="316.1" y="213.6" font-size="6.4" text-anchor="end" fill="#111">1.0×10<tspan font-size="5.2" dx="0.6" dy="-3.5">17</tspan></text>
<text x="316.1" y="288.55" font-size="6.4" text-anchor="end" fill="#111">1.0×10<tspan font-size="5.2" dx="0.6" dy="-3.5">16</tspan></text>
<text x="316.1" y="363.5" font-size="6.4" text-anchor="end" fill="#111">1.0×10<tspan font-size="5.2" dx="0.6" dy="-3.5">15</tspan></text>
<text x="400.43" y="379.8" font-size="7.75" text-anchor="middle" font-weight="normal" fill="#111">Thickness (µm)</text>
<text transform="translate(278.7,283.25) rotate(-90)" font-size="7.8" text-anchor="middle" fill="#111">Defect density (cm<tspan font-size="5" dy="-2.6">-3</tspan><tspan dy="2.6">)</tspan></text>
<text x="415.5" y="218.85" font-size="7.6" text-anchor="middle" font-weight="normal" fill="#000">20.01</text>
<text x="446.9" y="240.35" font-size="7.6" text-anchor="middle" font-weight="normal" fill="#000">21.94</text>
<text x="384.4" y="237.15" font-size="7.6" text-anchor="middle" font-weight="normal" fill="#000">23.88</text>
<text x="415.5" y="260.55" font-size="7.6" text-anchor="middle" font-weight="normal" fill="#000">25.81</text>
<text x="353.2" y="261.35" font-size="7.6" text-anchor="middle" font-weight="normal" fill="#000">27.74</text>
<text x="446.5" y="309.25" font-size="7.6" text-anchor="middle" font-weight="normal" fill="#000">29.67</text>
<rect x="457.75" y="208.3" width="20" height="18.8" fill="#b37850"/>
<text x="467.75" y="221.2" font-size="9.5" text-anchor="middle" font-weight="bold" fill="#fff" class="w">(d)</text>
<linearGradient id="cgd" x1="0" y1="0" x2="0" y2="1"><stop offset="0" stop-color="#6c0008"/><stop offset="0.06" stop-color="#9e080d"/><stop offset="0.12" stop-color="#c61215"/><stop offset="0.19" stop-color="#e2201d"/><stop offset="0.22" stop-color="#ee3026"/><stop offset="0.25" stop-color="#f84632"/><stop offset="0.31" stop-color="#fb785a"/><stop offset="0.38" stop-color="#fba88a"/><stop offset="0.44" stop-color="#fbd2be"/><stop offset="0.5" stop-color="#f4eef0"/><stop offset="0.56" stop-color="#d8e7f5"/><stop offset="0.62" stop-color="#b2d5f0"/><stop offset="0.69" stop-color="#76b6e2"/><stop offset="0.75" stop-color="#3e8ecf"/><stop offset="0.81" stop-color="#206cbc"/><stop offset="0.88" stop-color="#1450a5"/><stop offset="0.94" stop-color="#0c3787"/><stop offset="1" stop-color="#082064"/></linearGradient>
<rect x="489" y="211.7" width="12.6" height="143.5" fill="url(#cgd)"/>
<rect x="489" y="208.2" width="12.6" height="3.5" fill="#fff"/>
<rect x="489" y="355.2" width="12.6" height="3.4" fill="#000"/>
<rect x="489" y="208.2" width="12.6" height="150.4" fill="none" stroke="#555" stroke-width="0.5"/>
<text x="506.3" y="357.2" font-size="4.7" text-anchor="start" font-weight="normal" fill="#111">16.15</text>
<text x="506.3" y="339.26" font-size="4.7" text-anchor="start" font-weight="normal" fill="#111">18.08</text>
<text x="506.3" y="321.32" font-size="4.7" text-anchor="start" font-weight="normal" fill="#111">20.01</text>
<text x="506.3" y="303.39" font-size="4.7" text-anchor="start" font-weight="normal" fill="#111">21.94</text>
<text x="506.3" y="285.45" font-size="4.7" text-anchor="start" font-weight="normal" fill="#111">23.88</text>
<text x="506.3" y="267.51" font-size="4.7" text-anchor="start" font-weight="normal" fill="#111">25.81</text>
<text x="506.3" y="249.57" font-size="4.7" text-anchor="start" font-weight="normal" fill="#111">27.74</text>
<text x="506.3" y="231.64" font-size="4.7" text-anchor="start" font-weight="normal" fill="#111">29.67</text>
<text x="506.3" y="213.7" font-size="4.7" text-anchor="start" font-weight="normal" fill="#111">31.60</text>
<path d="M501.6,355.2 h2.3M501.6,337.26 h2.3M501.6,319.32 h2.3M501.6,301.39 h2.3M501.6,283.45 h2.3M501.6,265.51 h2.3M501.6,247.57 h2.3M501.6,229.64 h2.3M501.6,211.7 h2.3" stroke="#444" stroke-width="0.5" fill="none"/>
<text x="488.8" y="203.6" font-size="7.5" text-anchor="start" font-weight="normal" fill="#111">η (%)</text>
</svg>
</body></html>
